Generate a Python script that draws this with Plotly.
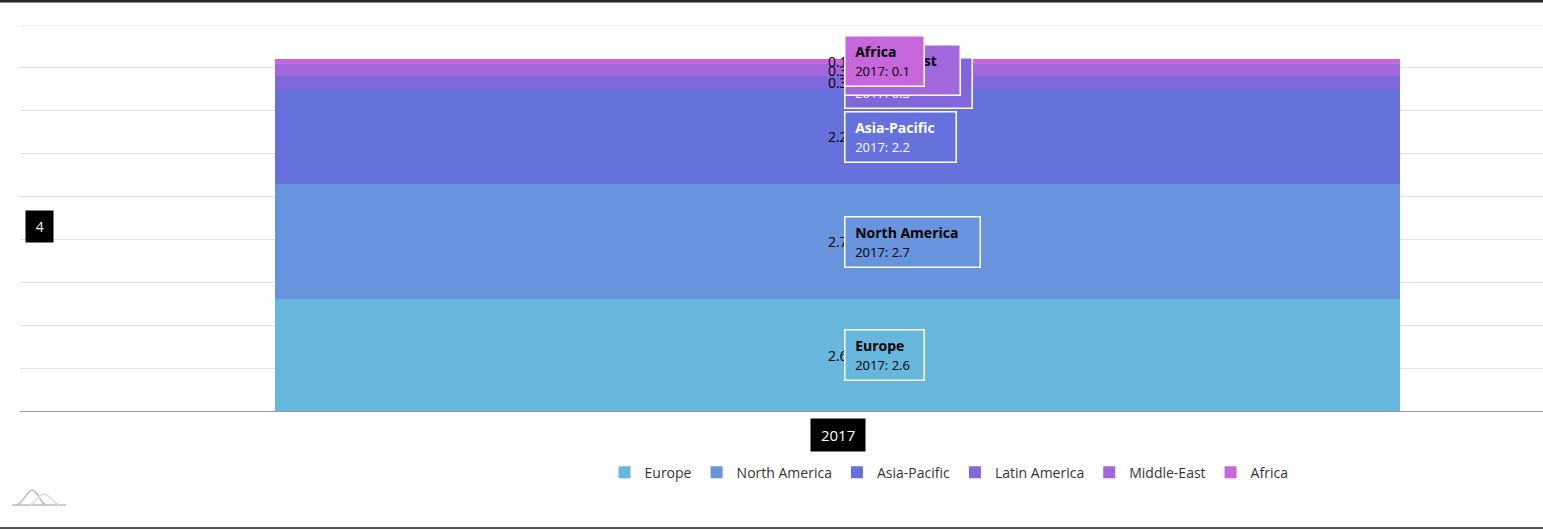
import plotly.graph_objects as go

years = ["2017"]
regions = ["Europe", "North America", "Asia-Pacific", "Latin America", "Middle-East", "Africa"]
values = [2.6, 2.7, 2.2, 0.3, 0.3, 0.1]
colors = ["#67b7dc", "#6794dc", "#6771dc", "#8067dc", "#a367dc", "#c767dc"]
tip_font = ["black", "black", "white", "white", "black", "black"]
cursor_value = "4"

# tooltip box widths in px (styling only)
tip_w = [66, 122, 98, 114, 102, 66]

fig = go.Figure()
for name, v, c in zip(regions, values, colors):
    fig.add_trace(go.Bar(
        x=[0], y=[v], name=name, width=1,
        marker=dict(color=c, line=dict(width=0)),
        text=[f"{v}"], textposition="inside", insidetextanchor="middle",
        constraintext="none", cliponaxis=False,
        textfont=dict(color="black", size=14), hoverinfo="skip",
    ))

# one tooltip per series, at the middle of its segment
base = 0
mids = []
for v in values:
    mids.append(base + v / 2)
    base += v
for i in range(len(regions)):
    fig.add_annotation(
        x=0, y=mids[i], xref="x", yref="y",
        text=(f"&nbsp;<b>{regions[i]}</b><br>"
              f"&nbsp;<span style='font-size:13px'>{years[0]}: {values[i]}</span>"),
        showarrow=False, xanchor="left", yanchor="middle", xshift=6, align="left",
        width=tip_w[i], height=37,
        bgcolor=colors[i], bordercolor="white", borderwidth=1.5, borderpad=6,
        font=dict(color=tip_font[i], size=14, family="Open Sans"),
    )

fig.add_annotation(
    x=0, y=0, xref="x", yref="paper", text=f"&nbsp;{years[0]}&nbsp;", showarrow=False,
    yanchor="top", yshift=-7, bgcolor="black", borderpad=6,
    font=dict(color="white", size=15, family="Open Sans"),
)
fig.add_annotation(
    x=0, y=4.31, xref="paper", yref="y", text=f"&nbsp;{cursor_value}&nbsp;", showarrow=False,
    xanchor="left", xshift=5, bgcolor="black", borderpad=6,
    font=dict(color="white", size=14, family="Open Sans"),
)

# top gridline at the edge of the value range
fig.add_shape(type="line", xref="paper", yref="y", x0=0, x1=1, y0=9, y1=9,
              line=dict(color="#e0e0e0", width=1), layer="below")
# page border lines
fig.add_shape(type="line", xref="paper", yref="paper", x0=-0.02, x1=1.0,
              y0=1.062, y1=1.062, line=dict(color="#23252b", width=3))
fig.add_shape(type="line", xref="paper", yref="paper", x0=-0.02, x1=1.0,
              y0=-0.303, y1=-0.303, line=dict(color="#555", width=2))


# small grey logo in the bottom-left corner (pixel -> paper)
def px(x, y):
    return f"{(x - 20) / 1523:.5f},{(411 - y) / 386:.5f}"


fig.add_shape(type="path", xref="paper", yref="paper",
              path=f"M{px(12, 505)} L{px(66, 505)}",
              line=dict(color="#bbbbbb", width=1.5))
fig.add_shape(type="path", xref="paper", yref="paper",
              path=(f"M{px(16, 505)} C{px(24, 503)} {px(26, 491)} {px(32, 490)} "
                    f"C{px(38, 490)} {px(40, 503)} {px(46, 505)}"),
              line=dict(color="#bbbbbb", width=1.5))
fig.add_shape(type="path", xref="paper", yref="paper",
              path=(f"M{px(30, 505)} C{px(36, 503)} {px(38, 494)} {px(44, 494)} "
                    f"C{px(50, 494)} {px(52, 503)} {px(60, 505)}"),
              line=dict(color="#dddddd", width=1.5))

fig.update_layout(
    width=1543, height=530,
    margin=dict(l=20, r=0, t=25, b=119),
    barmode="stack",
    plot_bgcolor="white", paper_bgcolor="white",
    font=dict(family="Open Sans", size=14, color="#333"),
    showlegend=True,
    legend=dict(orientation="h", x=0.61, xanchor="center", y=-0.16, yanchor="middle",
                font=dict(size=14, color="#333"), traceorder="normal"),
    xaxis=dict(range=[-0.727, 0.627], showgrid=False, zeroline=False,
               showticklabels=False, showline=True, linecolor="#999", linewidth=1,
               fixedrange=True),
    yaxis=dict(range=[0, 9], dtick=1, showgrid=True, gridcolor="#e0e0e0",
               zeroline=False, showticklabels=False, fixedrange=True),
    hovermode=False,
)

fig.write_html("out.html", config={"displayModeBar": False},
               post_script="document.body.style.margin='0';")
